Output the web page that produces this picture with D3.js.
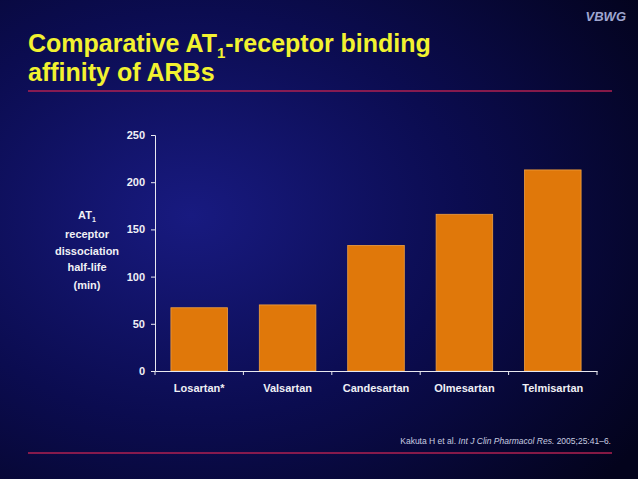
<!DOCTYPE html><html><head><meta charset="utf-8"><script src="https://cdn.jsdelivr.net/npm/d3@7"></script>
<style>body{margin:0;background:#000}</style></head><body><script>
const categories=["Losartan*","Valsartan","Candesartan","Olmesartan","Telmisartan"];
const values=[67,70,133,166,213];
const yTicks=[0,50,100,150,200,250];
const W=638,H=479;
const svg=d3.select("body").append("svg").attr("width",W).attr("height",H).style("font-family","Arial, Liberation Sans, sans-serif");
const defs=svg.append("defs");
const g=defs.append("radialGradient").attr("id","bg").attr("cx","0.3").attr("cy","0.45").attr("r","0.85");
g.append("stop").attr("offset","0").attr("stop-color","#181a80");
g.append("stop").attr("offset","0.5").attr("stop-color","#0b0c50");
g.append("stop").attr("offset","1").attr("stop-color","#03031c");
svg.append("rect").attr("width",W).attr("height",H).attr("fill","url(#bg)");
svg.append("text").attr("x",626).attr("y",21).attr("text-anchor","end").attr("fill","#9fa6d0").attr("font-size",13).attr("font-style","italic").attr("font-weight","bold").text("VBWG");
const t=svg.append("text").attr("fill","#f2f230").attr("font-size",25).attr("font-weight","bold");
const l1=t.append("tspan").attr("x",28).attr("y",52);
l1.append("tspan").text("Comparative AT");
l1.append("tspan").attr("font-size",15).attr("dy",6).text("1");
l1.append("tspan").attr("dy",-6).text("-receptor binding");
t.append("tspan").attr("x",28).attr("y",81).text("affinity of ARBs");
svg.append("line").attr("x1",28).attr("x2",612).attr("y1",91).attr("y2",91).attr("stroke","#b02050").attr("stroke-width",1.5);
svg.append("line").attr("x1",28).attr("x2",612).attr("y1",453).attr("y2",453).attr("stroke","#b02050").attr("stroke-width",1.5);
const x=d3.scaleBand().domain(categories).range([155,597]).paddingInner(0.36).paddingOuter(0.18);
const y=d3.scaleLinear().domain([0,250]).range([371,135]);
svg.selectAll(".bar").data(values).join("rect").attr("x",(d,i)=>x(categories[i])).attr("width",x.bandwidth()).attr("y",d=>y(d)).attr("height",d=>y(0)-y(d)).attr("fill","#e0780a").attr("stroke","#f0a040").attr("stroke-width",0.8);
const ya=svg.append("g").attr("transform","translate(155,0)").call(d3.axisLeft(y).tickValues(yTicks).tickSize(4).tickPadding(6));
const step=(597-155)/categories.length;
const xa=svg.append("g").attr("transform","translate(0,371)").call(d3.axisBottom(x).tickSize(0).tickPadding(13));
svg.append("g").selectAll("line").data(d3.range(categories.length+1)).join("line").attr("x1",i=>155+i*step).attr("x2",i=>155+i*step).attr("y1",371).attr("y2",375).attr("stroke","#e8e8f0");
[ya,xa].forEach(a=>{a.selectAll("path,line").attr("stroke","#e8e8f0");a.selectAll("text").attr("fill","#f0f0f5").attr("font-size",11).attr("font-weight","bold").attr("font-family","Arial, Liberation Sans, sans-serif");});
const lab=svg.append("text").attr("fill","#f0f0f5").attr("font-size",11).attr("font-weight","bold").attr("text-anchor","middle");
const ly=[219,238,255,271,289];
const l0=lab.append("tspan").attr("x",87).attr("y",ly[0]);l0.append("tspan").text("AT");l0.append("tspan").attr("font-size",7).attr("dy",3).text("1");
["receptor","dissociation","half-life","(min)"].forEach((s,i)=>lab.append("tspan").attr("x",87).attr("y",ly[i+1]).text(s));
const c=svg.append("text").attr("x",611).attr("y",444).attr("text-anchor","end").attr("fill","#c8cce0").attr("font-size",8.5);
c.append("tspan").text("Kakuta H et al. ");c.append("tspan").attr("font-style","italic").text("Int J Clin Pharmacol Res.");c.append("tspan").text(" 2005;25:41–6.");
</script></body></html>
